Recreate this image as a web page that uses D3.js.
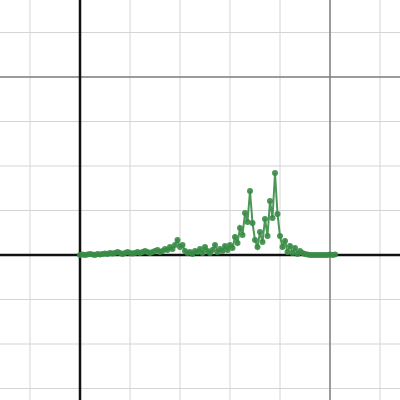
<!DOCTYPE html><html><head><script src="https://cdn.jsdelivr.net/npm/d3@7"></script>
<style>body{margin:0}svg{display:block}</style></head><body><svg width="400" height="400"></svg><script>
const heights=[0,0.5,0,0.5,1,0.5,0,1,0.5,1,1.5,1,2,1.5,2,3,2,1,2,3,2,1.5,2,3,
2,3,4,3,2,3,4,5,3,4,6,5,8,6,10,15,
8,10,4,2,3,1,4,3,6,2,8,4,2,5,10,3,6,4,9,5,
10,7,18,12,27,20,42,33,64,32,15,8,23,13,36,19,54,37,82,41,19,8,14,3,9,2,7,1,4,2,1,0.5,0,0,0,0,0,0,0,0,0.5,0,0.5];
const step=2.5;
const minorX=[-1,0,1,2,3,4,5,6], majorX=[5];
const minorY=[-3,-2,-1,0,1,2,3,4,5], majorY=[4];
const ux=50, uy=44.5;
const svg=d3.select("svg");
const gx=d3.scaleLinear().domain([-80/ux,320/ux]).range([0,400]);
const gy=d3.scaleLinear().domain([-145/uy,255/uy]).range([400,0]);
const x=d3.scaleLinear().domain([-80/step,320/step]).range([0,400]);
const y=d3.scaleLinear().domain([-145,255]).range([400,0]);
svg.append("rect").attr("width",400).attr("height",400).attr("fill","#fff");
svg.selectAll(".vx").data(minorX).join("line").attr("x1",d=>gx(d)).attr("x2",d=>gx(d)).attr("y1",0).attr("y2",400).attr("stroke","#d4d4d4").attr("stroke-width",1);
svg.selectAll(".hy").data(minorY).join("line").attr("y1",d=>gy(d)).attr("y2",d=>gy(d)).attr("x1",0).attr("x2",400).attr("stroke","#d4d4d4").attr("stroke-width",1);
svg.selectAll(".mx").data(majorX).join("line").attr("x1",d=>gx(d)).attr("x2",d=>gx(d)).attr("y1",0).attr("y2",400).attr("stroke","#808080").attr("stroke-width",1.5);
svg.selectAll(".my").data(majorY).join("line").attr("y1",d=>gy(d)).attr("y2",d=>gy(d)).attr("x1",0).attr("x2",400).attr("stroke","#808080").attr("stroke-width",1.5);
svg.append("line").attr("x1",gx(0)).attr("x2",gx(0)).attr("y1",0).attr("y2",400).attr("stroke","#111").attr("stroke-width",2.5);
svg.append("line").attr("y1",gy(0)).attr("y2",gy(0)).attr("x1",0).attr("x2",400).attr("stroke","#111").attr("stroke-width",2.5);
const line=d3.line().x((d,i)=>x(i)).y(d=>y(d));
svg.append("path").datum(heights).attr("d",line).attr("fill","none").attr("stroke","#388c46").attr("stroke-width",2).attr("stroke-opacity",0.9);
svg.selectAll(".pt").data(heights).join("circle").attr("cx",(d,i)=>x(i)).attr("cy",d=>y(d)).attr("r",3).attr("fill","#388c46").attr("fill-opacity",0.9);
</script></body></html>
